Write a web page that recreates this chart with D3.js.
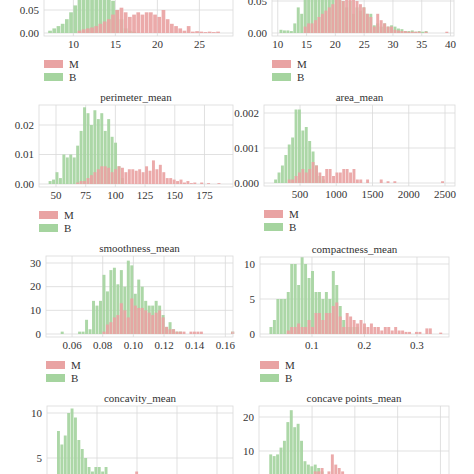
<!DOCTYPE html>
<html><head><meta charset="utf-8">
<script src="https://cdn.jsdelivr.net/npm/d3@7"></script>
<style>body{margin:0;background:#fff}</style>
</head><body><svg id="c" width="474" height="474" font-family="'Liberation Serif', 'DejaVu Serif', serif"></svg>
<script>
// histogram values per panel (bin start, bin width, heights for B and M)
var radiusB = [0.005,0.01,0.015,0.02,0.03,0.045,0.06,0.08,0.1,0.12,0.13,0.12,0.13,0.11,0.09,0.07,0.05,0.03,0.01,0.005,0.003];
var radiusM = [0,0,0,0,0,0,0,0.005,0.008,0.01,0.012,0.015,0.02,0.025,0.03,0.04,0.05,0.055,0.045,0.035,0.04,0.045,0.04,0.045,0.045,0.04,0.035,0.05,0.03,0.02,0.015,0.01,0.005,0.015,0.003,0.004,0.003,0.002,0.003,0.002,0.003];
var textureB = [0.005,0.004,0.004,0.003,0.015,0.04,0.03,0.07,0.09,0.1,0.09,0.1,0.09,0.08,0.09,0.08,0.07,0.06,0.05,0.04,0.05,0.03,0.04,0.035,0.04,0.03,0.03,0.012,0.015,0.01,0.015,0.01,0.012,0.01,0.007,0.006,0.003,0.003,0.004,0.002,0.003,0.002,0.003];
var textureM = [0,0,0,0,0,0,0,0.01,0.015,0.015,0.02,0.025,0.03,0.035,0.04,0.045,0.055,0.06,0.05,0.055,0.065,0.06,0.05,0.045,0.04,0.03,0.025,0.01,0.03,0.02,0.015,0.01,0.01,0.005,0.004,0.003,0.003,0.002,0.002,0.002,0.002,0,0.002,0,0,0,0,0,0.002];
var perimB = [0.001,0.0015,0.004,0.002,0.01,0.009,0.01,0.009,0.013,0.018,0.026,0.024,0.02,0.025,0.022,0.024,0.018,0.022,0.016,0.014,0.006,0.002];
var perimM = [0,0,0,0,0,0,0,0,0.0005,0.001,0.001,0.002,0.003,0.004,0.005,0.006,0.006,0.0055,0.004,0.005,0.006,0.0055,0.004,0.005,0.005,0.0045,0.005,0.004,0.006,0.0045,0.008,0.005,0.0065,0.004,0.002,0.002,0.0015,0.001,0.0015,0.0005,0.001,0.0003,0.0005,0,0.0005,0,0.0003,0,0,0.0003];
var areaB = [0.0001,0.0003,0.0005,0.0008,0.0011,0.0013,0.0021,0.0021,0.0015,0.0016,0.0012,0.0009,0.0005,0.0002,0.0001];
var areaM = [0,0,0,0,0.0001,0.0001,0.0002,0.0003,0.0004,0.0003,0.0004,0.0006,0.0005,0.0003,0.0002,0.0004,0.0004,0.0002,0.0003,0.0003,0.0004,0.0004,0.0003,0.0004,0.0001,0.0001,0,0.0001,0,0,0,0.0001,0,0.00005,0,0.00005,0,0,0,0,0,0,0,0,0,0,0,0,0,0.00005];
var smoothB = [1,0,0,0,0,1,1,6,2,14,12,14,25,18,27,28,21,27,20,31,29,17,23,20,14,12,12,14,12,8,3,5,2,1,1,0,0,0,0,0,0,0,0,0,0,0,0,0,0,1];
var smoothM = [0,0,0,0,0,0,0,0,0,0,0,0,1,4,5,7,8,13,10,7,15,12,11,11,10,9,8,9,10,7,3,2,2,1,1,1,0,1,1,1,1,0,0,0,0,0,0,0,0,1];
var compB = [1,2,5,5,5,6,10,10,7,11,10,8,9,6,6,5,6,5,9,7,4,2,1,1,1,1,0,1];
var compM = [0,0,0,0,0,0.5,1,1,1.5,1,1,2,1,3,3,2,3,3,4,4.5,2.5,1,3,2.5,2,1.5,2,1.5,1,1.5,1,1,0.5,1,1,0.5,1,0.5,0.5,0.3,0.3,0,0.3,0.3,0,0.8,0.8,0,0,0.2];
var concB = [8,6.5,7.5,10,10.5,9.5,7,6,5,4,3.5,4,4,3.5,4,2,2.5,1,0.5];
var concM = [0,0,0,0,0,0,0,0,0,0,0,0,1,2,2.5,3,1.5,2,1.5,2,3,1.5,2,3.5,2,1.5,1,1,1.5,0.5,1];
var pointsB = [9,8.5,9,11,13,18.5,22,17,18,13,7,6,5.5,6,5,4,3,2,1.5,1];
var pointsM = [0,0,0,0,0,0,0,0,0,0,2,2,3,4,4,5,3,4,9,6,5,4,3,2,1.5,1,1,0.5,0.5];

var panels = [
  {title:'', x0:7, w:0.5, B:radiusB, M:radiusM, xd:[6.5,29], xt:[10,15,20,25], yz:33, yk:[0.05,10], yt:[0,0.05], yf:'.2f', l:44, r:233, top:-30},
  {title:'', x0:10.3, w:0.6, B:textureB, M:textureM, xd:[9,40.6], xt:[10,15,20,25,30,35,40], yz:33, yk:[0.05,1], yt:[0,0.05], yf:'.2f', l:272, r:454, top:-30},
  {title:'perimeter_mean', x0:43.8, w:2.9, B:perimB, M:perimM, xd:[35.7,199], xt:[50,75,100,125,150,175], yz:184, yk:[0.02,125], yt:[0,0.01,0.02], yf:'.2f', l:39, r:233, top:105},
  {title:'area_mean', x0:143, w:47, B:areaB, M:areaM, xd:[3,2638], xt:[500,1000,1500,2000,2500], yz:183, yk:[0.002,113], yt:[0,0.001,0.002], yf:'.3f', l:264, r:455, top:105},
  {title:'smoothness_mean', x0:0.0526, w:0.00227, B:smoothB, M:smoothM, xd:[0.043,0.165], xt:[0.06,0.08,0.10,0.12,0.14,0.16], yz:334, yk:[30,263], yt:[0,10,20,30], yf:'d', xf:'.2f', l:46, r:233, top:256},
  {title:'compactness_mean', x0:0.019, w:0.0066, B:compB, M:compM, xd:[0.001,0.361], xt:[0.1,0.2,0.3], yz:334, yk:[10,264], yt:[0,5,10], yf:'d', xf:'.1f', l:260, r:449, top:257},
  {title:'concavity_mean', x0:0, w:0.0085, B:concB, M:concM, xd:[-0.025,0.44], xt:[0.1,0.2,0.3,0.4], yz:503, yk:[10,413], yt:[0,5,10], yf:'d', xf:'.1f', l:47, r:233, top:406},
  {title:'concave points_mean', x0:0, w:0.004, B:pointsB, M:pointsM, xd:[-0.012,0.21], xt:[0.05,0.1,0.15,0.2], yz:485, yk:[20,417], yt:[0,10,20], yf:'d', xf:'.2f', l:259, r:449, top:406}
];

var colB = '#a5d49f', colM = '#e9a3a3', grid = '#d9d9d9', H = 474;
var svg = d3.select('#c');

panels.forEach(function(p) {
  var g = svg.append('g');
  var x = d3.scaleLinear().domain(p.xd).range([p.l, p.r]);
  var y = d3.scaleLinear().domain([0, p.yk[0]]).range([p.yz, p.yk[1]]);
  var bottom = p.yz + 3;

  // grid
  g.selectAll('.vx').data(p.xt).enter().append('line')
    .attr('x1', x).attr('x2', x).attr('y1', p.top).attr('y2', bottom)
    .attr('stroke', grid).attr('stroke-width', 0.8);
  g.selectAll('.hy').data(p.yt).enter().append('line')
    .attr('x1', p.l).attr('x2', p.r).attr('y1', y).attr('y2', y)
    .attr('stroke', grid).attr('stroke-width', 0.8);

  [[p.B, colB], [p.M, colM]].forEach(function(s) {
    g.append('g').selectAll('rect').data(s[0]).enter().append('rect')
      .attr('x', function(d, i) { return x(p.x0 + i * p.w); })
      .attr('width', function() { return Math.max(0.5, x(p.w) - x(0) - 0.5); })
      .attr('y', function(d) { return y(d); })
      .attr('height', function(d) { return p.yz - y(d); })
      .attr('fill', s[1]).attr('opacity', 0.92);
  });

  g.append('rect').attr('x', p.l).attr('y', p.top).attr('width', p.r - p.l).attr('height', bottom - p.top)
    .attr('fill', 'none').attr('stroke', grid).attr('stroke-width', 0.8);

  // only draw labels that fall inside the picture
  var xf = p.xf ? d3.format(p.xf) : d3.format('d');
  if (bottom + 12 < H) {
    g.selectAll('.xl').data(p.xt).enter().append('text')
      .attr('x', x).attr('y', bottom + 12).attr('text-anchor', 'middle')
      .attr('font-size', 11).attr('fill', '#333').text(xf);
  }
  g.selectAll('.yl').data(p.yt.filter(function(d) { return y(d) < H - 4; })).enter().append('text')
    .attr('x', p.l - 5).attr('y', function(d) { return y(d) + 3.5; }).attr('text-anchor', 'end')
    .attr('font-size', 11).attr('fill', '#333').text(d3.format(p.yf));

  if (p.title) {
    g.append('text').attr('x', (p.l + p.r) / 2).attr('y', p.top - 4)
      .attr('text-anchor', 'middle').attr('font-size', 11).attr('fill', '#333').text(p.title);
  }

  // legend
  var ly = bottom + 28;
  if (ly < H) {
    [['M', colM], ['B', colB]].forEach(function(e, i) {
      g.append('rect').attr('x', p.l).attr('y', ly + i * 13 - 4).attr('width', 19).attr('height', 8).attr('fill', e[1]);
      g.append('text').attr('x', p.l + 25).attr('y', ly + i * 13 + 4).attr('font-size', 11).attr('fill', '#333').text(e[0]);
    });
  }
});
</script></body></html>
